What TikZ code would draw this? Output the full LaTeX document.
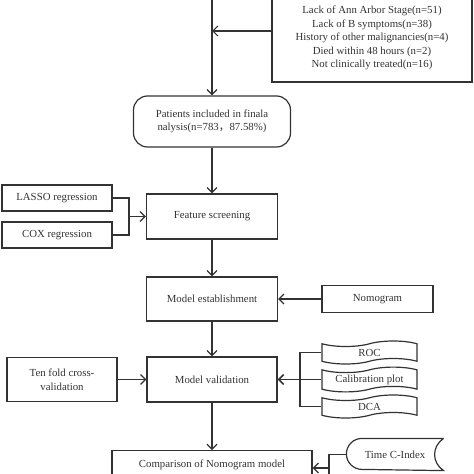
\documentclass[tikz,border=0pt]{standalone}
\usepackage{fontspec}
\setmainfont{Liberation Serif}
\newfontfamily\cjk{Noto Sans CJK SC}
\usetikzlibrary{arrows.meta,shapes.symbols}

\begin{document}
\begin{tikzpicture}[x=1pt,y=-1pt,line width=1.2pt,color=black!80,
  font=\fontsize{10.8}{13.5}\selectfont,
  box/.style={draw,rectangle,align=center,inner sep=2pt},
  tapebox/.style={draw,tape,align=center,inner sep=2pt,minimum width=95pt,
    minimum height=23pt,tape bend height=5.5pt},
  arr/.style={-{Straight Barb[length=5pt,width=10pt]}}]

\useasboundingbox (0,0) rectangle (474,474);
\clip (0,0) rectangle (474,474);

\coordinate (top) at (212,-10);

\node[box,minimum width=200pt,minimum height=88pt] (excl) at (372,38)
  {Lack of Ann Arbor Stage(n=51)\\Lack of B symptoms(n=38)\\
   History of other malignancies(n=4)\\Died within 48 hours (n=2)\\
   Not clinically treated(n=16)};

\node[box,rounded corners=14pt,minimum width=157pt,minimum height=51pt] (pat) at (212,121.5)
  {Patients included in finala\\nalysis(n=783{\cjk ，}87.58\%)};

\node[box,minimum width=131pt,minimum height=45pt] (feat) at (212,216.5) {Feature screening};
\node[box,minimum width=110pt,minimum height=26pt] (lasso) at (57,198) {LASSO regression};
\node[box,minimum width=110pt,minimum height=26pt] (cox) at (57,235) {COX regression};
\coordinate (fjoin) at (129,216.5);

\node[box,minimum width=131pt,minimum height=44pt] (model) at (212,299) {Model establishment};
\node[box,minimum width=111pt,minimum height=27pt] (nomo) at (377.5,299) {Nomogram};

\node[box,minimum width=130pt,minimum height=45pt] (valid) at (212,379.5) {Model validation};
\node[box,minimum width=110pt,minimum height=44pt] (tenfold) at (62,379.5) {Ten fold cross-\\validation};

\node[tapebox] (roc) at (369.5,352.5) {ROC};
\node[tapebox] (calib) at (369.5,379.5) {Calibration plot};
\node[tapebox] (dca) at (369.5,406.5) {DCA};
\coordinate (vjoin) at (300,379.5);

\node[box,anchor=north,minimum width=200pt,inner ysep=9pt,text depth=20pt] (comp) at (212,450)
  {Comparison of Nomogram model};

\node[minimum width=96pt,minimum height=31pt] (cidx) at (395,454.5) {Time C-Index};
\draw (cidx.north east) -- ([xshift=15.5pt]cidx.north west)
  arc[start angle=90,end angle=270,radius=15.5pt] -- (cidx.south east)
  .. controls ([xshift=-12pt,yshift=8pt]cidx.south east) and ([xshift=-12pt,yshift=-8pt]cidx.north east) .. (cidx.north east);
\coordinate (cjoin) at (329,468);

% main flow
\draw[arr] (top) -- (pat);
\coordinate (exc) at ([yshift=7pt]excl.west);
\draw[arr] (exc) -- (exc -| top);
\draw[arr] (pat) -- (feat);
\draw (lasso.east) -| (fjoin) |- (cox.east);
\draw[arr] (fjoin) -- (feat.west);
\draw[arr] (feat) -- (model);
\draw[arr] (nomo) -- (model);
\draw[arr] (model) -- (valid);
\draw[arr] (tenfold) -- (valid);
\draw (roc.west) -| (vjoin |- dca.west) -- (dca.west);
\draw (calib.west) -- (vjoin);
\draw[arr,line width=1.6pt] (vjoin) -- (valid.east);
\draw[arr] (valid) -- (comp);
\draw (cidx.west) -| (cjoin) -- ++(0,30);
\draw[arr] (cjoin) -- (comp.east |- cjoin);

\end{tikzpicture}
\end{document}
